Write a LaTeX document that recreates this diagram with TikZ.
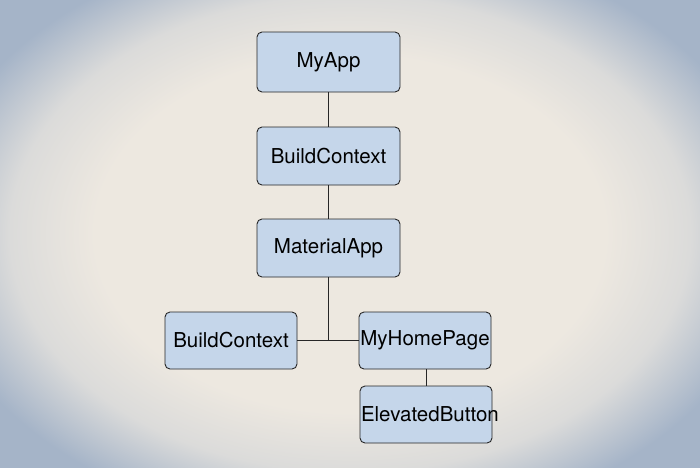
\documentclass[tikz,border=0pt]{standalone}
\usepackage{fontspec}
\setmainfont{TeX Gyre Heros}
\definecolor{boxfill}{RGB}{197,214,234}
\definecolor{bgc}{RGB}{237,232,224}
\definecolor{bge}{RGB}{165,180,200}
\pgfdeclareradialshading{vign}{\pgfpoint{0cm}{0cm}}{color(0cm)=(bgc);color(0.45cm)=(bgc);color(0.6cm)=(bgc!75!bge);color(0.75cm)=(bge)}
\begin{document}
\begin{tikzpicture}[x=1pt,y=-1pt,
  box/.style={draw=black!85,line width=0.9pt,fill=boxfill,rounded corners=5pt,minimum height=58pt,font=\fontsize{20.5}{24}\selectfont,inner sep=1pt},
  wire/.style={draw=black!85,line width=0.9pt}]
\useasboundingbox (0,0) rectangle (700,467);
\begin{scope}
\clip (-1,-1) rectangle (701,468);
\fill[bge] (-1,-1) rectangle (701,468);
\shade[shading=vign] (350,233.5) ellipse [x radius=500pt, y radius=350pt];
\end{scope}
\node[box,minimum width=143pt,minimum height=60pt] (a) at (328.5,62) {MyApp};
\node[box,minimum width=143pt] (b) at (328.5,156) {BuildContext};
\node[box,minimum width=143pt] (c) at (328.5,248) {MaterialApp};
\node[box,minimum width=132pt,minimum height=57pt] (d) at (231,340.5) {BuildContext};
\node[box,minimum width=132pt,minimum height=57pt] (e) at (425,340.5) {MyHomePage};
\node[box,minimum width=132pt,minimum height=57pt,text width=130pt,align=center] (f) at (426,414.5) {ElevatedButton};
\draw[wire] (a) -- (b);
\draw[wire] (b) -- (c);
\draw[wire] (d) -- (e);
\coordinate (j) at (328.5,340.5);
\draw[wire] (c) -- (j);
\draw[wire] (e.south -| f) -- (f);
\end{tikzpicture}
\end{document}
